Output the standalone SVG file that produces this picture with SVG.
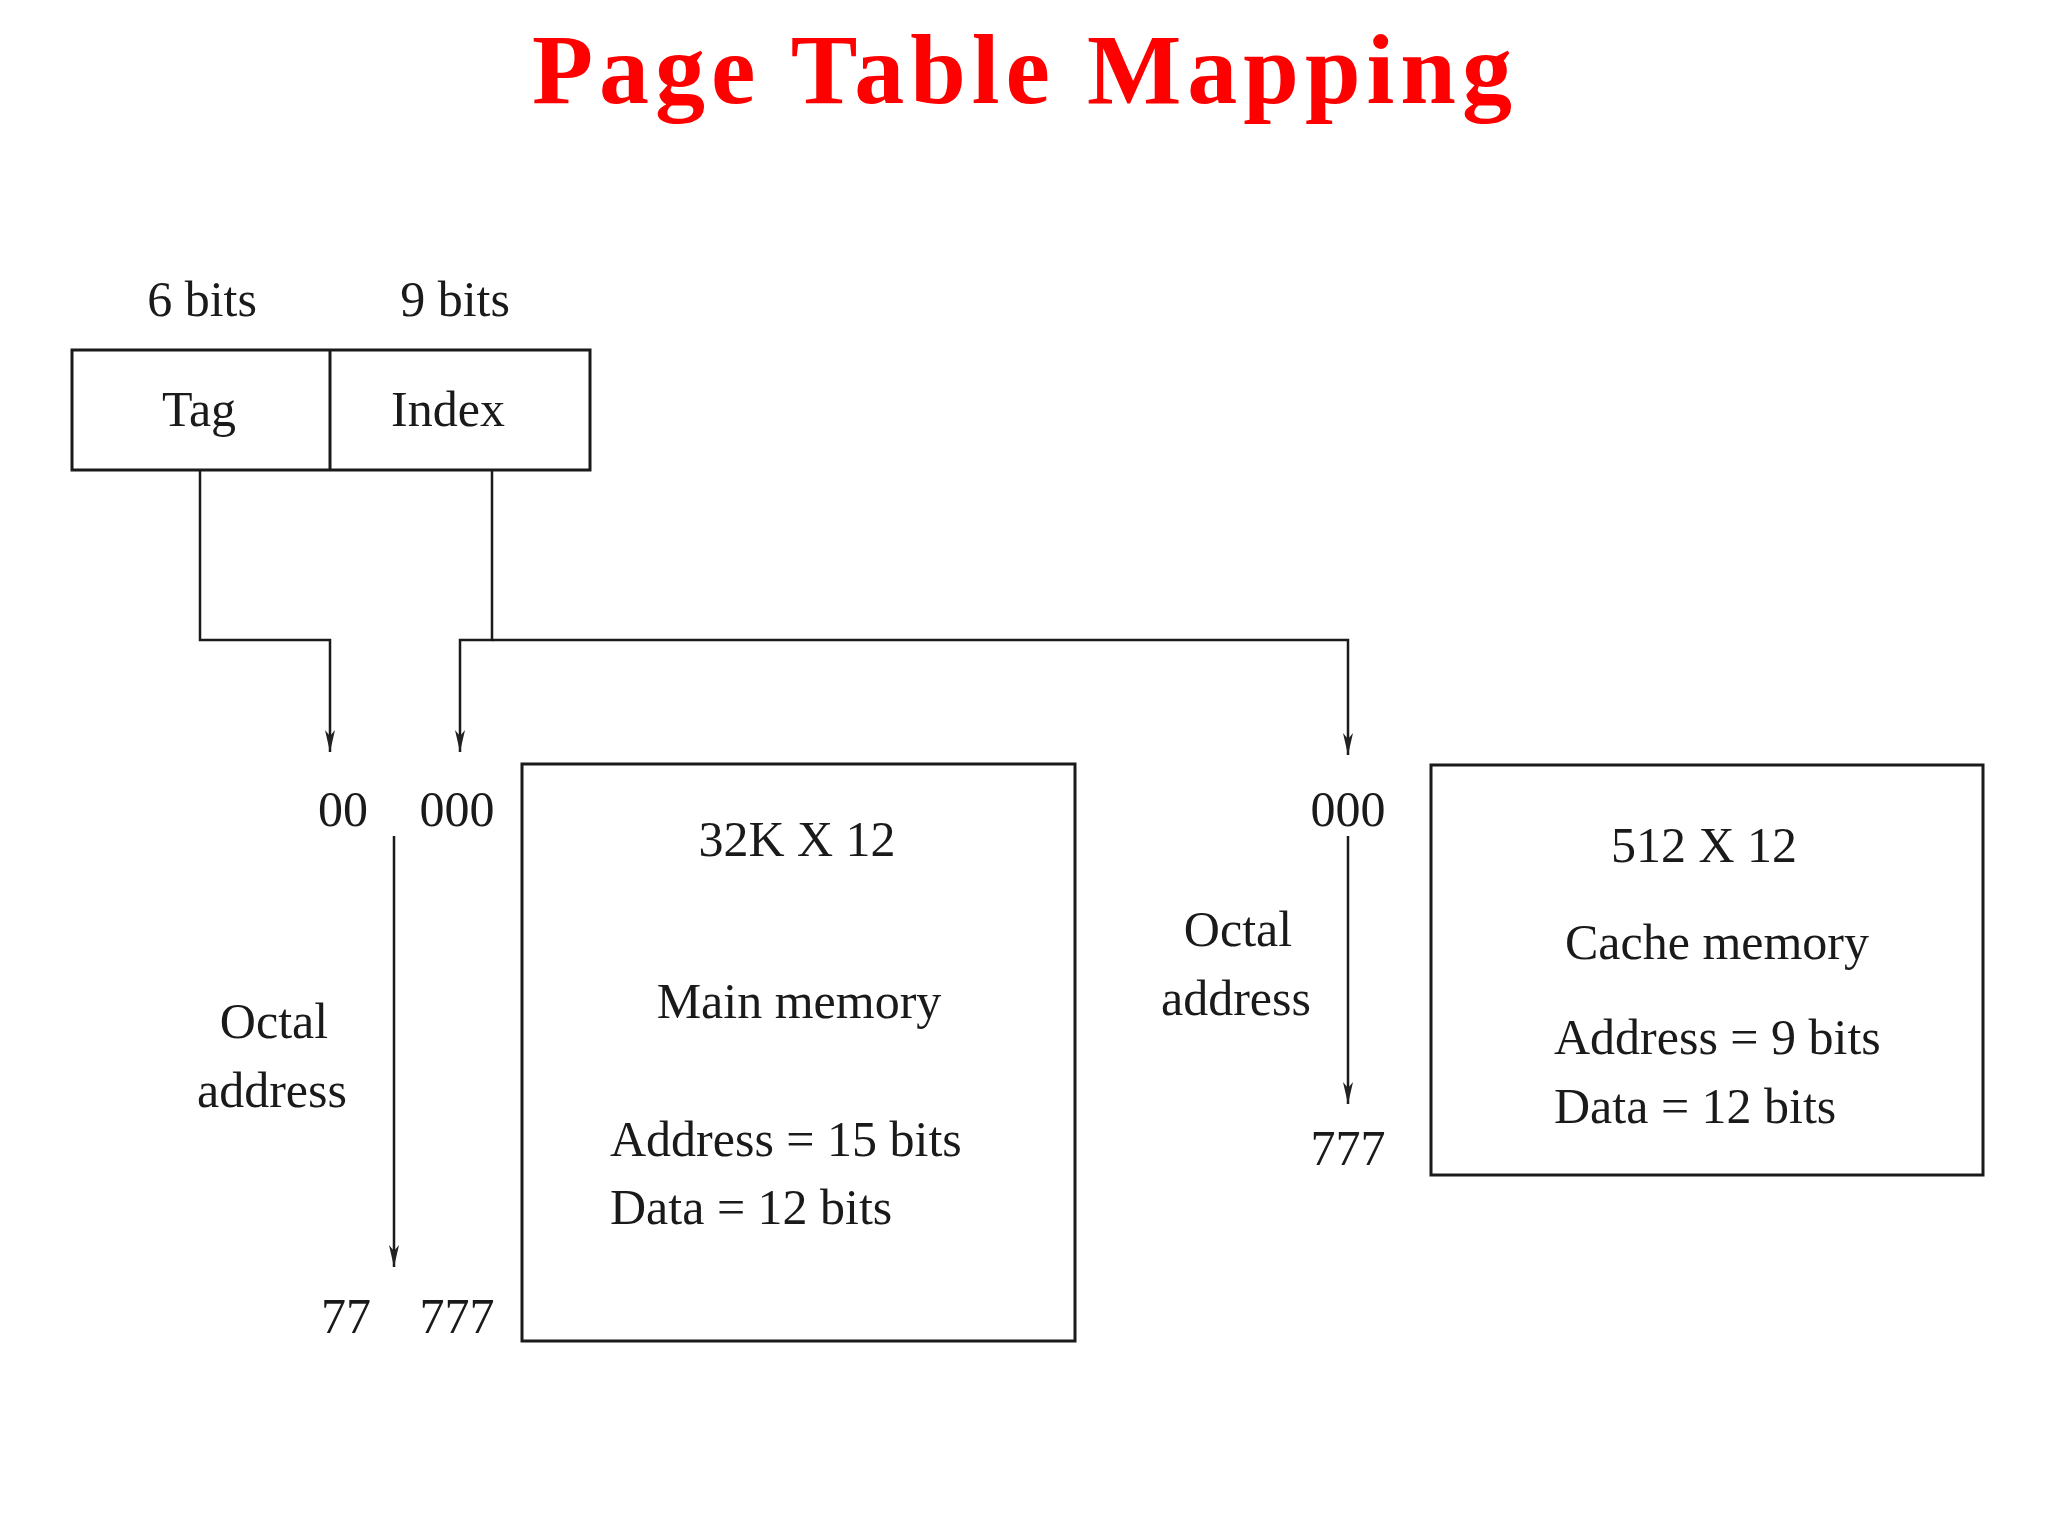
<svg xmlns="http://www.w3.org/2000/svg" width="2048" height="1536" viewBox="0 0 2048 1536">
<defs>
<marker id="ah" viewBox="0 0 22 10" refX="22" refY="5" markerWidth="22" markerHeight="10" markerUnits="userSpaceOnUse" orient="auto"><path d="M0,0 L22,5 L0,10 L6,5 Z" fill="#222"/></marker>
<style>
.t{font-family:"Liberation Serif",serif;font-size:50px;fill:#1a1a1a;text-anchor:middle}
.b{fill:none;stroke:#1a1a1a;stroke-width:3}
.c{fill:none;stroke:#1a1a1a;stroke-width:2.5}
</style>
</defs>
<rect width="2048" height="1536" fill="#fff"/>
<text x="1025" y="103" style="font-family:'Liberation Serif',serif;font-weight:bold;font-size:100px;fill:#f00;text-anchor:middle;letter-spacing:6px">Page Table Mapping</text>
<g id="addr">
<rect class="b" x="72" y="350" width="518" height="120"/>
<line class="b" x1="330" y1="350" x2="330" y2="470"/>
<text class="t" x="202" y="316">6 bits</text>
<text class="t" x="455" y="316">9 bits</text>
<text class="t" x="199" y="426">Tag</text>
<text class="t" x="448" y="426">Index</text>
</g>
<g id="connectors">
<path class="c" d="M200,470 V640 H330 V752" marker-end="url(#ah)"/>
<path class="c" d="M492,470 V640 H460 V752" marker-end="url(#ah)"/>
<path class="c" d="M492,640 H1348 V755" marker-end="url(#ah)"/>
<path class="c" d="M394,836 V1267" marker-end="url(#ah)"/>
<path class="c" d="M1348,836 V1104" marker-end="url(#ah)"/>
</g>
<g id="mainlabels">
<text class="t" x="343" y="826">00</text>
<text class="t" x="457" y="826">000</text>
<text class="t" x="274" y="1038">Octal</text>
<text class="t" x="272" y="1107">address</text>
<text class="t" x="346" y="1333">77</text>
<text class="t" x="457" y="1333">777</text>
</g>
<g id="main">
<rect class="b" x="522" y="764" width="553" height="577"/>
<text class="t" x="797" y="856">32K X 12</text>
<text class="t" x="799" y="1018">Main memory</text>
<text class="t" x="610" y="1156" style="text-anchor:start">Address = 15 bits</text>
<text class="t" x="610" y="1224" style="text-anchor:start">Data = 12 bits</text>
</g>
<g id="cachelabels">
<text class="t" x="1348" y="826">000</text>
<text class="t" x="1238" y="946">Octal</text>
<text class="t" x="1236" y="1015">address</text>
<text class="t" x="1348" y="1165">777</text>
</g>
<g id="cache">
<rect class="b" x="1431" y="765" width="552" height="410"/>
<text class="t" x="1704" y="862">512 X 12</text>
<text class="t" x="1717" y="959">Cache memory</text>
<text class="t" x="1554" y="1054" style="text-anchor:start">Address = 9 bits</text>
<text class="t" x="1554" y="1123" style="text-anchor:start">Data = 12 bits</text>
</g>
</svg>
